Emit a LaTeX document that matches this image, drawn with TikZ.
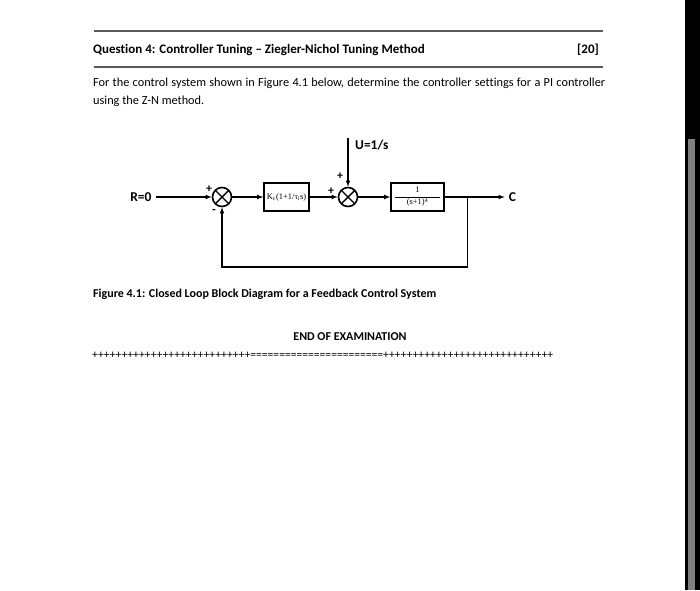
\documentclass[tikz,border=0pt]{standalone}
\usepackage{fontspec}
\setmainfont{Carlito}[Ligatures=NoCommon]
\newfontfamily\blockfont{Liberation Serif}
\usepackage{xcolor}
\usetikzlibrary{shapes,arrows,positioning,fit,calc}

\begin{document}
\begin{tikzpicture}[x=1pt, y=-1pt, >=latex,
    txt/.style={inner sep=0pt, anchor=base west, font=\fontsize{12.3}{15}\selectfont},
    btxt/.style={txt, font=\bfseries\fontsize{13}{15}\selectfont},
    ctxt/.style={txt, font=\bfseries\fontsize{12}{14}\selectfont},
    sig/.style={inner sep=4pt, font=\bfseries\fontsize{13.5}{15}\selectfont},
    sgn/.style={inner sep=0pt, font=\bfseries\fontsize{12}{12}\selectfont},
    sumj/.style={circle, draw, line width=1.6pt, minimum size=19pt, inner sep=0pt,
        path picture={\draw[line width=1.4pt] (path picture bounding box.north west) -- (path picture bounding box.south east)
            (path picture bounding box.north east) -- (path picture bounding box.south west);}},
    block/.style={rectangle, draw, line width=1.4pt, minimum width=45pt, minimum height=28pt, inner sep=0pt,
        font=\blockfont\fontsize{8.5}{9}\selectfont},
    wire/.style={line width=1.1pt},
    hrule/.style={line width=1.3pt, black!65}]
    \useasboundingbox (0,0) rectangle (700,590);
    \fill[white] (0,0) rectangle (700,590);
    \fill[black] (685,0) rectangle (700,590);
    \fill[black!50] (688,139) rectangle (695,590);

    % heading
    \draw[hrule] (94,31) -- (603,31);
    \node[btxt] (title) at (93,53) {Question 4: Controller Tuning -- Ziegler-Nichol Tuning Method};
    \node[btxt, anchor=base east] (marks) at (599,53) {[20]};
    \draw[hrule] (94,67) -- (603,67);
    \node[txt] (q1) at (93,86) {\makebox[512pt][s]{For the control system shown in Figure 4.1 below, determine the controller settings for a PI controller}};
    \node[txt] (q2) at (93,104) {using the Z-N method.};

    % block diagram
    \node[sumj] (sumA) at (222,197) {};
    \node[block, right=31pt of sumA] (ctrl) {K\textsubscript{c}(1+1/τ\textsubscript{i}s)};
    \node[sumj, right=28pt of ctrl] (sumB) {};
    \node[block, minimum width=53pt, right=32pt of sumB, align=center] (plant) {1\\[-4pt]\rule{45pt}{0.6pt}\\[-2pt](s+1)\textsuperscript{4}};
    \node[sig, left=56pt of sumA] (in) {R=0};
    \node[sig, right=60pt of plant] (out) {C};
    \coordinate[above=49pt of sumB.north] (Utop);
    \node[sig, anchor=west] (ulab) at ($(Utop)+(3,7)$) {U=1/s};
    \coordinate[right=23pt of plant.east] (br);

    \node[sgn] (pA) at ($(sumA)+(-13,-8)$) {+};
    \node[sgn] (mA) at ($(sumA)+(-8,14)$) {-};
    \node[sgn] (pB) at ($(sumB)+(-17,-6)$) {+};
    \node[sgn] (pU) at ($(sumB)+(-8,-21)$) {+};

    \draw[wire, ->] (in) -- (sumA);
    \draw[wire, ->] (sumA) -- (ctrl);
    \draw[wire, ->] (ctrl) -- (sumB);
    \draw[wire, ->] (Utop) -- (sumB);
    \draw[wire, ->] (sumB) -- (plant);
    \draw[wire, ->] (plant) -- (out);
    \draw[wire, ->] (br) -- ++(0,70) -| (sumA.south);

    % caption and end
    \node[ctxt] (cap) at (93,297) {Figure 4.1: Closed Loop Block Diagram for a Feedback Control System};
    \node[ctxt, anchor=base] (endx) at (350,340) {END OF EXAMINATION};
    \node[txt, font=\fontsize{11.6}{14}\selectfont] (plusline) at (92,358)
        {\foreach \i in {1,...,27}{+}\foreach \i in {1,...,23}{=}\foreach \i in {1,...,29}{+}};
\end{tikzpicture}
\end{document}
